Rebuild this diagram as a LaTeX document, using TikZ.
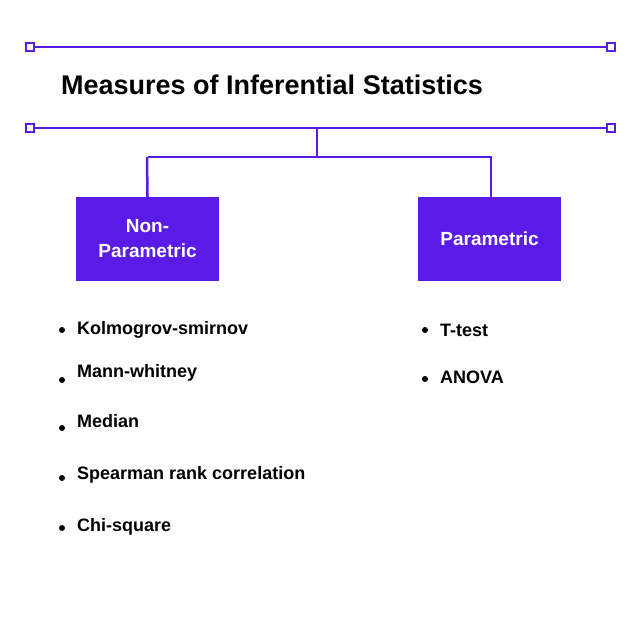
\documentclass[tikz,border=0pt]{standalone}
\usepackage{fontspec}
\setmainfont{Liberation Sans}
\definecolor{purp}{HTML}{5B1BE6}
\begin{document}
\begin{tikzpicture}[x=1pt,y=-1pt,
  ln/.style={draw=purp,line width=2.5pt},
  sq/.style={draw=purp,line width=1.8pt,fill=white,minimum size=8pt,inner sep=0pt},
  box/.style={fill=purp,text=white,font=\bfseries\fontsize{19}{25}\selectfont,minimum width=143pt,minimum height=84pt,align=center,inner sep=0pt},
  item/.style={anchor=west,font=\bfseries\fontsize{18}{22}\selectfont,inner sep=0pt},
  dot/.style={circle,fill=black,minimum size=6pt,inner sep=0pt}]
\useasboundingbox (0,0) rectangle (638,638);
\node[sq] (a1) at (30,47) {};
\node[sq] (a2) at (611,47) {};
\draw[ln] (a1) -- (a2);
\node[anchor=west,font=\bfseries\fontsize{27}{32}\selectfont,inner sep=0pt] (t) at (61,85) {Measures of Inferential Statistics};
\node[sq] (b1) at (30,128) {};
\node[sq] (b2) at (611,128) {};
\draw[ln] (b1) -- (b2);
\node[box] (np) at (147.5,239) {Non-\\Parametric};
\node[box] (p) at (489.5,239) {Parametric};
\coordinate (c0) at (317,128);
\coordinate (c1) at (317,157);
\coordinate (cl) at (147,157);
\coordinate (cr) at (491,157);
\draw[ln] (c0) -- (c1);
\draw[ln] (np.north |- cl) -- (cr) -- (cr |- p.north);
\draw[ln] (cl) -- (np.north);
\foreach \t/\y/\by [count=\i] in {Kolmogrov-smirnov/330/330, Mann-whitney/373/380, Median/421/428, Spearman rank correlation/475/478, Chi-square/527/528}{
  \node[dot] (d\i) at (62,\by) {};
  \node[item] (l\i) at (77,\y) {\t};
}
\node[dot] (e1) at (425,330) {};
\node[item] (r1) at (440,330) {T-test};
\node[dot] (e2) at (425,379) {};
\node[item] (r2) at (440,377) {ANOVA};
\end{tikzpicture}
\end{document}
